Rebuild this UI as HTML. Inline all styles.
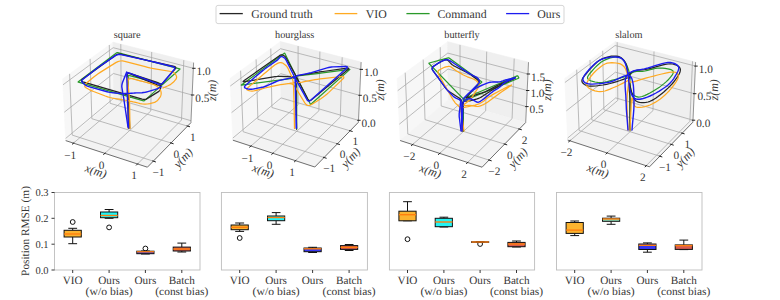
<!DOCTYPE html>
<html><head><meta charset="utf-8"><style>
html,body{margin:0;padding:0;background:#fff;}
svg{display:block;}
text{font-family:"Liberation Serif",serif;fill:#363636;text-rendering:geometricPrecision;}
</style></head><body>
<svg width="780" height="300" viewBox="0 0 780 300">
<rect width="780" height="300" fill="#fff"/>
<polygon points="65.7,140.6 113.8,100.3 113.1,42.2 62.7,78.9" fill="#f7f7f7" stroke="#f7f7f7" stroke-width="0.6"/>
<polygon points="113.8,100.3 190.9,122.7 193.6,62.6 113.1,42.2" fill="#efefef" stroke="#efefef" stroke-width="0.6"/>
<polygon points="65.7,140.6 147.4,167.2 190.9,122.7 113.8,100.3" fill="#f3f3f3" stroke="#f3f3f3" stroke-width="0.6"/>
<line x1="73.5" y1="143.1" x2="121.2" y2="102.4" stroke="#a6a6a6" stroke-width="0.75"/>
<line x1="121.2" y1="102.4" x2="120.8" y2="44.1" stroke="#a6a6a6" stroke-width="0.75"/>
<line x1="104.9" y1="153.3" x2="150.8" y2="111.0" stroke="#a6a6a6" stroke-width="0.75"/>
<line x1="150.8" y1="111.0" x2="151.7" y2="52.0" stroke="#a6a6a6" stroke-width="0.75"/>
<line x1="137.5" y1="164.0" x2="181.5" y2="120.0" stroke="#a6a6a6" stroke-width="0.75"/>
<line x1="181.5" y1="120.0" x2="183.8" y2="60.1" stroke="#a6a6a6" stroke-width="0.75"/>
<line x1="72.2" y1="135.1" x2="153.4" y2="161.2" stroke="#a6a6a6" stroke-width="0.75"/>
<line x1="72.2" y1="135.1" x2="69.6" y2="73.9" stroke="#a6a6a6" stroke-width="0.75"/>
<line x1="91.8" y1="118.7" x2="171.1" y2="143.0" stroke="#a6a6a6" stroke-width="0.75"/>
<line x1="91.8" y1="118.7" x2="90.1" y2="58.9" stroke="#a6a6a6" stroke-width="0.75"/>
<line x1="110.1" y1="103.3" x2="187.6" y2="126.1" stroke="#a6a6a6" stroke-width="0.75"/>
<line x1="110.1" y1="103.3" x2="109.3" y2="45.0" stroke="#a6a6a6" stroke-width="0.75"/>
<line x1="65.6" y1="138.5" x2="113.7" y2="98.3" stroke="#a6a6a6" stroke-width="0.75"/>
<line x1="113.7" y1="98.3" x2="191.0" y2="120.7" stroke="#a6a6a6" stroke-width="0.75"/>
<line x1="64.3" y1="112.2" x2="113.4" y2="73.5" stroke="#a6a6a6" stroke-width="0.75"/>
<line x1="113.4" y1="73.5" x2="192.1" y2="95.0" stroke="#a6a6a6" stroke-width="0.75"/>
<line x1="63.0" y1="84.8" x2="113.2" y2="47.7" stroke="#a6a6a6" stroke-width="0.75"/>
<line x1="113.2" y1="47.7" x2="193.4" y2="68.3" stroke="#a6a6a6" stroke-width="0.75"/>
<line x1="65.7" y1="140.6" x2="147.4" y2="167.2" stroke="#333" stroke-width="0.7"/>
<line x1="147.4" y1="167.2" x2="190.9" y2="122.7" stroke="#333" stroke-width="0.7"/>
<line x1="190.9" y1="122.7" x2="193.6" y2="62.6" stroke="#6a6a6a" stroke-width="0.7"/>
<line x1="74.2" y1="142.6" x2="72.0" y2="144.4" stroke="#222" stroke-width="1"/>
<text x="70.2" y="158.6" font-size="11.3" text-anchor="middle">−1</text>
<line x1="105.5" y1="152.8" x2="103.3" y2="154.7" stroke="#222" stroke-width="1"/>
<text x="101.5" y="168.8" font-size="11.3" text-anchor="middle">0</text>
<line x1="138.1" y1="163.4" x2="136.1" y2="165.4" stroke="#222" stroke-width="1"/>
<text x="134.1" y="179.4" font-size="11.3" text-anchor="middle">1</text>
<line x1="152.3" y1="160.8" x2="155.9" y2="162.0" stroke="#222" stroke-width="1"/>
<text x="158.5" y="175.6" font-size="11.3" text-anchor="middle">−1</text>
<line x1="170.1" y1="142.7" x2="173.6" y2="143.8" stroke="#222" stroke-width="1"/>
<text x="176.3" y="157.5" font-size="11.3" text-anchor="middle">0</text>
<line x1="186.6" y1="125.8" x2="190.0" y2="126.8" stroke="#222" stroke-width="1"/>
<text x="192.8" y="140.6" font-size="11.3" text-anchor="middle">1</text>
<line x1="190.9" y1="95.0" x2="194.3" y2="95.0" stroke="#222" stroke-width="1"/>
<text x="195.3" y="101.5" font-size="11.3" text-anchor="start">0.5</text>
<line x1="192.2" y1="68.3" x2="195.6" y2="68.3" stroke="#222" stroke-width="1"/>
<text x="196.6" y="74.8" font-size="11.3" text-anchor="start">1.0</text>
<text x="96.0" y="171.0" font-size="12" text-anchor="middle" font-style="italic" dominant-baseline="central" transform="rotate(19 96.0 171.0)">x(m)</text>
<text x="183.1" y="158.0" font-size="12" text-anchor="middle" font-style="italic" dominant-baseline="central" transform="rotate(-48 183.1 158.0)">y(m)</text>
<text x="212.2" y="90.3" font-size="12" text-anchor="middle" font-style="italic" dominant-baseline="central" transform="rotate(-90 212.2 90.3)">z(m)</text>
<text x="127.2" y="37.5" font-size="10.3" text-anchor="middle">square</text>
<polygon points="232.9,140.2 281.1,99.8 280.4,41.6 230.0,78.4" fill="#f7f7f7" stroke="#f7f7f7" stroke-width="0.6"/>
<polygon points="281.1,99.8 358.4,122.3 361.1,62.1 280.4,41.6" fill="#efefef" stroke="#efefef" stroke-width="0.6"/>
<polygon points="232.9,140.2 314.8,167.0 358.4,122.3 281.1,99.8" fill="#f3f3f3" stroke="#f3f3f3" stroke-width="0.6"/>
<line x1="250.9" y1="146.1" x2="298.1" y2="104.8" stroke="#a6a6a6" stroke-width="0.75"/>
<line x1="298.1" y1="104.8" x2="298.1" y2="46.1" stroke="#a6a6a6" stroke-width="0.75"/>
<line x1="272.9" y1="153.3" x2="318.9" y2="110.8" stroke="#a6a6a6" stroke-width="0.75"/>
<line x1="318.9" y1="110.8" x2="319.9" y2="51.6" stroke="#a6a6a6" stroke-width="0.75"/>
<line x1="295.6" y1="160.7" x2="340.3" y2="117.0" stroke="#a6a6a6" stroke-width="0.75"/>
<line x1="340.3" y1="117.0" x2="342.2" y2="57.3" stroke="#a6a6a6" stroke-width="0.75"/>
<line x1="243.1" y1="131.7" x2="324.0" y2="157.5" stroke="#a6a6a6" stroke-width="0.75"/>
<line x1="243.1" y1="131.7" x2="240.6" y2="70.7" stroke="#a6a6a6" stroke-width="0.75"/>
<line x1="257.9" y1="119.3" x2="337.4" y2="143.8" stroke="#a6a6a6" stroke-width="0.75"/>
<line x1="257.9" y1="119.3" x2="256.1" y2="59.4" stroke="#a6a6a6" stroke-width="0.75"/>
<line x1="271.9" y1="107.5" x2="350.1" y2="130.8" stroke="#a6a6a6" stroke-width="0.75"/>
<line x1="271.9" y1="107.5" x2="270.8" y2="48.6" stroke="#a6a6a6" stroke-width="0.75"/>
<line x1="232.8" y1="138.1" x2="281.1" y2="97.9" stroke="#a6a6a6" stroke-width="0.75"/>
<line x1="281.1" y1="97.9" x2="358.4" y2="120.3" stroke="#a6a6a6" stroke-width="0.75"/>
<line x1="231.6" y1="112.6" x2="280.8" y2="73.7" stroke="#a6a6a6" stroke-width="0.75"/>
<line x1="280.8" y1="73.7" x2="359.6" y2="95.3" stroke="#a6a6a6" stroke-width="0.75"/>
<line x1="230.3" y1="86.0" x2="280.5" y2="48.7" stroke="#a6a6a6" stroke-width="0.75"/>
<line x1="280.5" y1="48.7" x2="360.8" y2="69.4" stroke="#a6a6a6" stroke-width="0.75"/>
<line x1="232.9" y1="140.2" x2="314.8" y2="167.0" stroke="#333" stroke-width="0.7"/>
<line x1="314.8" y1="167.0" x2="358.4" y2="122.3" stroke="#333" stroke-width="0.7"/>
<line x1="358.4" y1="122.3" x2="361.1" y2="62.1" stroke="#6a6a6a" stroke-width="0.7"/>
<line x1="251.5" y1="145.5" x2="249.3" y2="147.4" stroke="#222" stroke-width="1"/>
<text x="247.5" y="161.5" font-size="11.3" text-anchor="middle">−1</text>
<line x1="273.5" y1="152.7" x2="271.4" y2="154.7" stroke="#222" stroke-width="1"/>
<text x="269.5" y="168.7" font-size="11.3" text-anchor="middle">0</text>
<line x1="296.2" y1="160.1" x2="294.1" y2="162.1" stroke="#222" stroke-width="1"/>
<text x="292.2" y="176.1" font-size="11.3" text-anchor="middle">1</text>
<line x1="323.0" y1="157.2" x2="326.6" y2="158.3" stroke="#222" stroke-width="1"/>
<text x="329.2" y="172.0" font-size="11.3" text-anchor="middle">−1</text>
<line x1="336.4" y1="143.5" x2="339.9" y2="144.6" stroke="#222" stroke-width="1"/>
<text x="342.6" y="158.3" font-size="11.3" text-anchor="middle">0</text>
<line x1="349.1" y1="130.5" x2="352.6" y2="131.5" stroke="#222" stroke-width="1"/>
<text x="355.3" y="145.3" font-size="11.3" text-anchor="middle">1</text>
<line x1="357.2" y1="120.3" x2="360.6" y2="120.3" stroke="#222" stroke-width="1"/>
<text x="361.6" y="126.8" font-size="11.3" text-anchor="start">0.0</text>
<line x1="358.4" y1="95.3" x2="361.8" y2="95.3" stroke="#222" stroke-width="1"/>
<text x="362.8" y="101.8" font-size="11.3" text-anchor="start">0.5</text>
<line x1="359.6" y1="69.4" x2="363.0" y2="69.4" stroke="#222" stroke-width="1"/>
<text x="364.0" y="75.9" font-size="11.3" text-anchor="start">1.0</text>
<text x="263.3" y="170.7" font-size="12" text-anchor="middle" font-style="italic" dominant-baseline="central" transform="rotate(19 263.3 170.7)">x(m)</text>
<text x="350.6" y="157.6" font-size="12" text-anchor="middle" font-style="italic" dominant-baseline="central" transform="rotate(-48 350.6 157.6)">y(m)</text>
<text x="379.7" y="89.8" font-size="12" text-anchor="middle" font-style="italic" dominant-baseline="central" transform="rotate(-90 379.7 89.8)">z(m)</text>
<text x="294.7" y="37.5" font-size="10.3" text-anchor="middle">hourglass</text>
<polygon points="400.1,140.5 448.3,100.0 447.7,41.7 397.1,78.6" fill="#f7f7f7" stroke="#f7f7f7" stroke-width="0.6"/>
<polygon points="448.3,100.0 525.7,122.5 528.5,62.2 447.7,41.7" fill="#efefef" stroke="#efefef" stroke-width="0.6"/>
<polygon points="400.1,140.5 482.1,167.2 525.7,122.5 448.3,100.0" fill="#f3f3f3" stroke="#f3f3f3" stroke-width="0.6"/>
<line x1="412.6" y1="144.5" x2="460.2" y2="103.5" stroke="#a6a6a6" stroke-width="0.75"/>
<line x1="460.2" y1="103.5" x2="460.0" y2="44.9" stroke="#a6a6a6" stroke-width="0.75"/>
<line x1="439.7" y1="153.4" x2="485.7" y2="110.9" stroke="#a6a6a6" stroke-width="0.75"/>
<line x1="485.7" y1="110.9" x2="486.7" y2="51.6" stroke="#a6a6a6" stroke-width="0.75"/>
<line x1="467.6" y1="162.5" x2="512.1" y2="118.6" stroke="#a6a6a6" stroke-width="0.75"/>
<line x1="512.1" y1="118.6" x2="514.2" y2="58.6" stroke="#a6a6a6" stroke-width="0.75"/>
<line x1="407.8" y1="134.0" x2="489.1" y2="160.1" stroke="#a6a6a6" stroke-width="0.75"/>
<line x1="407.8" y1="134.0" x2="405.2" y2="72.7" stroke="#a6a6a6" stroke-width="0.75"/>
<line x1="425.0" y1="119.6" x2="504.7" y2="144.1" stroke="#a6a6a6" stroke-width="0.75"/>
<line x1="425.0" y1="119.6" x2="423.2" y2="59.6" stroke="#a6a6a6" stroke-width="0.75"/>
<line x1="441.2" y1="106.0" x2="519.3" y2="129.1" stroke="#a6a6a6" stroke-width="0.75"/>
<line x1="441.2" y1="106.0" x2="440.2" y2="47.2" stroke="#a6a6a6" stroke-width="0.75"/>
<line x1="399.3" y1="124.2" x2="448.1" y2="84.6" stroke="#a6a6a6" stroke-width="0.75"/>
<line x1="448.1" y1="84.6" x2="526.4" y2="106.6" stroke="#a6a6a6" stroke-width="0.75"/>
<line x1="398.5" y1="107.6" x2="448.0" y2="69.0" stroke="#a6a6a6" stroke-width="0.75"/>
<line x1="448.0" y1="69.0" x2="527.2" y2="90.5" stroke="#a6a6a6" stroke-width="0.75"/>
<line x1="397.7" y1="90.7" x2="447.8" y2="53.1" stroke="#a6a6a6" stroke-width="0.75"/>
<line x1="447.8" y1="53.1" x2="527.9" y2="74.0" stroke="#a6a6a6" stroke-width="0.75"/>
<line x1="400.1" y1="140.5" x2="482.1" y2="167.2" stroke="#333" stroke-width="0.7"/>
<line x1="482.1" y1="167.2" x2="525.7" y2="122.5" stroke="#333" stroke-width="0.7"/>
<line x1="525.7" y1="122.5" x2="528.5" y2="62.2" stroke="#6a6a6a" stroke-width="0.7"/>
<line x1="413.3" y1="144.0" x2="411.1" y2="145.9" stroke="#222" stroke-width="1"/>
<text x="409.3" y="160.0" font-size="11.3" text-anchor="middle">−2</text>
<line x1="440.3" y1="152.8" x2="438.1" y2="154.8" stroke="#222" stroke-width="1"/>
<text x="436.3" y="168.8" font-size="11.3" text-anchor="middle">0</text>
<line x1="468.2" y1="161.9" x2="466.2" y2="164.0" stroke="#222" stroke-width="1"/>
<text x="464.2" y="177.9" font-size="11.3" text-anchor="middle">2</text>
<line x1="488.1" y1="159.8" x2="491.7" y2="160.9" stroke="#222" stroke-width="1"/>
<text x="494.3" y="174.6" font-size="11.3" text-anchor="middle">−2</text>
<line x1="503.7" y1="143.8" x2="507.2" y2="144.9" stroke="#222" stroke-width="1"/>
<text x="509.9" y="158.6" font-size="11.3" text-anchor="middle">0</text>
<line x1="518.3" y1="128.8" x2="521.8" y2="129.8" stroke="#222" stroke-width="1"/>
<text x="524.5" y="143.6" font-size="11.3" text-anchor="middle">2</text>
<line x1="525.2" y1="106.6" x2="528.6" y2="106.6" stroke="#222" stroke-width="1"/>
<text x="529.6" y="113.1" font-size="11.3" text-anchor="start">0.5</text>
<line x1="526.0" y1="90.5" x2="529.4" y2="90.5" stroke="#222" stroke-width="1"/>
<text x="530.4" y="97.0" font-size="11.3" text-anchor="start">1.0</text>
<line x1="526.7" y1="74.0" x2="530.1" y2="74.0" stroke="#222" stroke-width="1"/>
<text x="531.1" y="80.5" font-size="11.3" text-anchor="start">1.5</text>
<text x="430.5" y="171.0" font-size="12" text-anchor="middle" font-style="italic" dominant-baseline="central" transform="rotate(19 430.5 171.0)">x(m)</text>
<text x="517.9" y="157.9" font-size="12" text-anchor="middle" font-style="italic" dominant-baseline="central" transform="rotate(-48 517.9 157.9)">y(m)</text>
<text x="547.1" y="90.0" font-size="12" text-anchor="middle" font-style="italic" dominant-baseline="central" transform="rotate(-90 547.1 90.0)">z(m)</text>
<text x="462.0" y="37.5" font-size="10.3" text-anchor="middle">butterfly</text>
<polygon points="567.7,140.1 615.8,99.8 615.1,41.7 564.7,78.4" fill="#f7f7f7" stroke="#f7f7f7" stroke-width="0.6"/>
<polygon points="615.8,99.8 692.9,122.2 695.6,62.1 615.1,41.7" fill="#efefef" stroke="#efefef" stroke-width="0.6"/>
<polygon points="567.7,140.1 649.5,166.8 692.9,122.2 615.8,99.8" fill="#f3f3f3" stroke="#f3f3f3" stroke-width="0.6"/>
<line x1="569.9" y1="140.8" x2="617.8" y2="100.4" stroke="#a6a6a6" stroke-width="0.75"/>
<line x1="617.8" y1="100.4" x2="617.2" y2="42.2" stroke="#a6a6a6" stroke-width="0.75"/>
<line x1="607.1" y1="152.9" x2="653.0" y2="110.6" stroke="#a6a6a6" stroke-width="0.75"/>
<line x1="653.0" y1="110.6" x2="654.0" y2="51.5" stroke="#a6a6a6" stroke-width="0.75"/>
<line x1="646.2" y1="165.7" x2="689.9" y2="121.3" stroke="#a6a6a6" stroke-width="0.75"/>
<line x1="689.9" y1="121.3" x2="692.5" y2="61.3" stroke="#a6a6a6" stroke-width="0.75"/>
<line x1="579.1" y1="130.5" x2="659.8" y2="156.2" stroke="#a6a6a6" stroke-width="0.75"/>
<line x1="579.1" y1="130.5" x2="576.7" y2="69.7" stroke="#a6a6a6" stroke-width="0.75"/>
<line x1="591.8" y1="119.9" x2="671.2" y2="144.4" stroke="#a6a6a6" stroke-width="0.75"/>
<line x1="591.8" y1="119.9" x2="590.0" y2="60.0" stroke="#a6a6a6" stroke-width="0.75"/>
<line x1="603.9" y1="109.8" x2="682.2" y2="133.2" stroke="#a6a6a6" stroke-width="0.75"/>
<line x1="603.9" y1="109.8" x2="602.7" y2="50.8" stroke="#a6a6a6" stroke-width="0.75"/>
<line x1="567.6" y1="138.1" x2="615.7" y2="97.9" stroke="#a6a6a6" stroke-width="0.75"/>
<line x1="615.7" y1="97.9" x2="693.0" y2="120.2" stroke="#a6a6a6" stroke-width="0.75"/>
<line x1="566.3" y1="110.9" x2="615.4" y2="72.2" stroke="#a6a6a6" stroke-width="0.75"/>
<line x1="615.4" y1="72.2" x2="694.2" y2="93.7" stroke="#a6a6a6" stroke-width="0.75"/>
<line x1="564.9" y1="82.5" x2="615.1" y2="45.5" stroke="#a6a6a6" stroke-width="0.75"/>
<line x1="615.1" y1="45.5" x2="695.5" y2="66.1" stroke="#a6a6a6" stroke-width="0.75"/>
<line x1="567.7" y1="140.1" x2="649.5" y2="166.8" stroke="#333" stroke-width="0.7"/>
<line x1="649.5" y1="166.8" x2="692.9" y2="122.2" stroke="#333" stroke-width="0.7"/>
<line x1="692.9" y1="122.2" x2="695.6" y2="62.1" stroke="#6a6a6a" stroke-width="0.7"/>
<line x1="570.5" y1="140.3" x2="568.3" y2="142.1" stroke="#222" stroke-width="1"/>
<text x="566.5" y="156.3" font-size="11.3" text-anchor="middle">−2</text>
<line x1="607.7" y1="152.4" x2="605.6" y2="154.3" stroke="#222" stroke-width="1"/>
<text x="603.7" y="168.4" font-size="11.3" text-anchor="middle">0</text>
<line x1="646.8" y1="165.1" x2="644.8" y2="167.2" stroke="#222" stroke-width="1"/>
<text x="642.8" y="181.1" font-size="11.3" text-anchor="middle">2</text>
<line x1="658.8" y1="155.9" x2="662.3" y2="157.0" stroke="#222" stroke-width="1"/>
<text x="665.0" y="170.7" font-size="11.3" text-anchor="middle">−1</text>
<line x1="670.2" y1="144.1" x2="673.7" y2="145.2" stroke="#222" stroke-width="1"/>
<text x="676.4" y="158.9" font-size="11.3" text-anchor="middle">0</text>
<line x1="681.2" y1="132.9" x2="684.6" y2="133.9" stroke="#222" stroke-width="1"/>
<text x="687.4" y="147.7" font-size="11.3" text-anchor="middle">1</text>
<line x1="691.8" y1="120.2" x2="695.2" y2="120.2" stroke="#222" stroke-width="1"/>
<text x="696.2" y="126.7" font-size="11.3" text-anchor="start">0.0</text>
<line x1="693.0" y1="93.7" x2="696.4" y2="93.7" stroke="#222" stroke-width="1"/>
<text x="697.4" y="100.2" font-size="11.3" text-anchor="start">0.5</text>
<line x1="694.3" y1="66.1" x2="697.7" y2="66.1" stroke="#222" stroke-width="1"/>
<text x="698.7" y="72.6" font-size="11.3" text-anchor="start">1.0</text>
<text x="598.0" y="170.6" font-size="12" text-anchor="middle" font-style="italic" dominant-baseline="central" transform="rotate(19 598.0 170.6)">x(m)</text>
<text x="685.1" y="157.5" font-size="12" text-anchor="middle" font-style="italic" dominant-baseline="central" transform="rotate(-48 685.1 157.5)">y(m)</text>
<text x="714.2" y="89.8" font-size="12" text-anchor="middle" font-style="italic" dominant-baseline="central" transform="rotate(-90 714.2 89.8)">z(m)</text>
<text x="628.9" y="37.5" font-size="10.3" text-anchor="middle">slalom</text>
<polyline points="128.6,128.3 128.2,75.8 128.2,75.6 128.3,75.5 128.5,75.4 128.7,75.4 162.3,84.2 162.5,84.2 162.6,84.4 162.6,84.5 162.4,84.6 144.5,100.6 144.3,100.7 144.1,100.8 143.9,100.8 143.6,100.8 78.4,82.1 78.2,82.1 78.1,82.0 78.2,81.8 78.3,81.7 116.7,52.8 116.9,52.7 117.1,52.6 117.3,52.6 117.6,52.6 179.7,68.8 179.9,68.8 180.0,69.0 180.0,69.1 179.8,69.2 162.8,84.3" fill="none" stroke="#2a9a2a" stroke-width="1.2" stroke-linejoin="round" stroke-linecap="round"/>
<polyline points="129.8,128.3 127.2,75.5 127.3,74.2 127.8,73.5 128.6,73.2 129.9,73.4 157.1,82.4 158.4,83.0 159.4,83.8 160.1,84.9 160.4,86.3 160.6,87.0 160.6,88.4 160.3,89.7 159.5,90.7 158.5,91.6 147.5,98.4 146.3,99.1 144.9,99.4 143.5,99.4 142.1,99.2 82.9,81.8 81.8,81.4 81.3,80.8 81.5,80.1 82.4,79.2 115.6,55.3 116.8,54.5 118.1,54.1 119.5,54.0 120.9,54.2 147.1,60.3 148.5,60.7 150.0,61.0 151.5,61.3 152.9,61.7 174.1,66.3 175.2,66.8 175.8,67.4 175.7,68.2 175.0,69.2 162.0,83.8 161.0,84.7 159.8,85.2 158.6,85.2 157.2,84.9 126.7,72.5" fill="none" stroke="#262626" stroke-width="1.25" stroke-linejoin="round" stroke-linecap="round"/>
<polyline points="130.0,128.5 129.6,105.0 129.5,102.5 129.4,100.0 129.3,97.5 129.1,95.0 127.9,82.5 128.1,80.4 128.8,79.1 130.3,78.5 132.3,78.7 140.2,80.8 142.6,81.4 145.0,82.0 147.4,82.7 149.8,83.4 153.5,84.5 155.0,85.1 156.4,85.9 157.7,86.9 158.8,88.1 160.0,89.6 160.6,90.5 160.9,91.4 161.1,92.4 161.2,93.4 161.1,93.9 161.0,94.9 160.7,95.9 160.3,96.8 159.7,97.7 158.6,99.2 157.6,100.4 156.4,101.3 155.1,102.1 153.6,102.6 149.8,103.6 147.4,104.0 145.0,104.2 142.6,104.0 140.2,103.6 138.1,103.0 135.7,102.4 133.3,101.9 130.8,101.3 128.4,100.8 126.6,100.5 124.1,100.0 121.7,99.6 119.2,99.2 116.8,98.8 114.9,98.5 112.5,98.1 110.1,97.5 107.7,96.8 105.3,96.0 93.6,91.5 91.9,90.8 90.3,90.1 88.6,89.2 87.0,88.3 86.4,87.9 85.1,86.9 84.7,85.9 85.0,84.8 86.0,83.6 92.2,78.3 94.1,76.7 96.1,75.2 98.1,73.7 100.2,72.4 115.8,62.6 117.9,61.6 120.1,61.0 122.5,60.9 124.8,61.3 145.2,66.7 147.6,67.3 150.0,67.9 152.5,68.4 154.9,68.8 171.1,71.5 172.5,71.9 173.7,72.5 174.7,73.4 175.6,74.5 175.9,75.0 176.5,76.2 176.6,77.4 176.3,78.6 175.6,79.7 174.3,81.2 172.9,82.6 171.4,83.8 169.8,84.9 168.0,85.8 163.0,88.0" fill="none" stroke="#ffaa22" stroke-width="1.25" stroke-linejoin="round" stroke-linecap="round"/>
<polyline points="127.5,77.5 127.5,95.0 127.5,97.5 127.5,100.0 127.6,102.5 127.6,105.0 128.0,128.0" fill="none" stroke="#ffaa22" stroke-width="1.25" stroke-linejoin="round" stroke-linecap="round"/>
<polyline points="128.5,128.0 127.6,103.0 127.6,101.5 127.5,100.0 127.5,98.5 127.4,97.0 126.8,75.0 126.9,73.8 127.4,73.0 128.3,72.8 129.5,73.1 158.2,83.9 159.5,84.3 160.8,84.2 161.9,83.7 163.0,82.7 174.0,69.8 174.7,68.7 174.8,67.9 174.2,67.2 173.1,66.8 152.9,61.7 151.5,61.4 150.0,61.0 148.5,60.7 147.1,60.4 120.9,54.6 119.5,54.5 118.1,54.6 116.8,55.0 115.5,55.7 102.5,64.3 101.3,65.2 100.0,66.0 98.8,66.9 97.6,67.8 83.0,79.2 82.1,80.1 81.8,81.0 82.0,82.0 82.9,82.9 84.4,84.2 85.6,85.1 86.8,85.8 88.2,86.4 89.6,86.9 107.1,91.7 108.6,92.1 110.0,92.4 111.5,92.6 113.0,92.8 118.7,93.4 120.2,93.5 121.7,93.6 123.2,93.6 124.7,93.5 130.3,93.3 131.8,93.2 133.3,93.1 134.8,93.0 136.3,92.9 142.0,92.7 143.5,92.5 145.0,92.3 146.4,92.0 147.9,91.6 154.5,89.7 155.6,89.3 156.7,88.9 157.7,88.5 158.8,88.0 161.3,86.7" fill="none" stroke="#1c1cf0" stroke-width="1.4" stroke-linejoin="round" stroke-linecap="round"/>
<polyline points="126.7,72.0 122.6,82.2 122.2,83.6 121.9,85.0 121.8,86.5 122.0,88.0 123.5,97.0 123.8,98.5 124.0,100.0 124.2,101.5 124.4,103.0 128.0,127.0" fill="none" stroke="#1c1cf0" stroke-width="1.4" stroke-linejoin="round" stroke-linecap="round"/>
<polyline points="296.7,129.2 296.7,78.2 296.7,78.0 296.6,77.8 296.4,77.8 296.2,77.8 241.5,85.1 241.3,85.1 241.2,85.1 241.3,85.0 241.4,84.9 284.3,53.3 284.5,53.2 284.7,53.2 284.8,53.3 284.9,53.4 295.6,75.4 295.7,75.6 295.8,75.8 295.9,76.0 296.0,76.2 310.3,104.1 310.4,104.2 310.5,104.3 310.7,104.3 310.9,104.2 349.7,69.6 349.9,69.5 349.9,69.4 349.8,69.4 349.6,69.4 320.5,73.2 320.2,73.3 320.0,73.3 319.8,73.3 319.5,73.4 295.5,76.1" fill="none" stroke="#2a9a2a" stroke-width="1.2" stroke-linejoin="round" stroke-linecap="round"/>
<polyline points="296.5,129.0 296.0,80.0 295.8,78.7 295.3,77.7 294.3,77.1 293.0,76.9 281.0,76.3 279.5,76.3 278.0,76.4 276.5,76.5 275.0,76.7 244.7,81.7 243.5,81.8 243.1,81.6 243.3,81.2 244.2,80.5 276.6,57.7 277.3,57.2 278.0,56.7 278.7,56.2 279.4,55.7 279.6,55.5 280.3,55.1 281.1,54.9 281.8,54.9 282.6,55.1 283.2,55.3 284.0,55.7 284.8,56.3 285.4,56.9 285.9,57.7 294.6,73.4 295.3,74.7 296.0,76.0 296.7,77.3 297.4,78.7 307.8,99.0 308.6,100.1 309.4,100.6 310.4,100.5 311.5,99.8 347.7,69.7 348.5,68.9 348.7,68.4 348.2,68.1 347.0,68.2 323.0,71.5 321.5,71.7 320.0,71.9 318.5,72.2 317.0,72.4 296.0,76.0" fill="none" stroke="#262626" stroke-width="1.25" stroke-linejoin="round" stroke-linecap="round"/>
<polyline points="294.5,128.5 294.1,105.0 294.0,102.5 294.0,100.0 293.9,97.5 293.8,95.0 293.5,85.0 293.3,82.5 292.8,80.1 292.2,77.7 291.2,75.4 288.3,69.0 287.6,67.6 286.7,66.3 285.6,65.2 284.3,64.2 283.0,63.3 282.0,62.8 280.9,62.6 279.9,62.6 278.8,62.9 278.2,63.1 277.1,63.6 276.1,64.2 275.1,64.8 274.1,65.5 268.9,69.8 266.9,71.4 265.0,73.0 263.1,74.6 261.2,76.3 247.8,87.7 247.0,88.6 246.8,89.4 247.3,90.0 248.4,90.5 249.1,90.7 250.5,91.0 252.0,91.1 253.5,91.0 254.9,90.7 260.2,89.3 262.6,88.7 265.0,88.0 267.4,87.4 269.9,86.9 273.1,86.1 275.6,85.6 278.0,85.1 280.5,84.7 283.0,84.3 288.0,83.7 290.4,83.6 292.4,84.2 294.1,85.5 295.5,87.3 297.5,90.7 298.7,92.8 300.0,95.0 301.3,97.1 302.6,99.3 304.8,102.9 306.2,104.6 307.8,105.5 309.6,105.4 311.6,104.5 320.8,98.7 322.9,97.3 324.9,95.8 326.8,94.2 328.6,92.6 342.4,79.4 343.7,78.0 343.9,77.0 343.0,76.5 341.0,76.5 325.0,78.3 322.5,78.6 320.0,78.9 317.5,79.3 315.1,79.7 304.4,81.7 302.2,82.1 300.0,82.4 297.7,82.6 295.5,82.7 290.0,83.0" fill="none" stroke="#ffaa22" stroke-width="1.25" stroke-linejoin="round" stroke-linecap="round"/>
<polyline points="296.3,128.3 295.3,80.0 295.1,78.7 294.5,77.9 293.6,77.5 292.3,77.6 280.9,80.1 279.5,80.4 278.1,80.9 276.7,81.4 275.3,82.0 267.7,85.4 266.3,86.0 264.9,86.5 263.5,87.0 262.1,87.3 252.9,89.1 251.5,89.3 250.0,89.3 248.6,89.1 247.1,88.8 246.1,88.4 244.9,87.9 244.5,87.2 244.6,86.4 245.4,85.5 252.8,79.0 253.9,78.0 255.0,77.0 256.2,76.0 257.3,75.1 262.7,70.6 263.9,69.7 265.0,68.8 266.2,67.9 267.5,67.0 276.2,60.9 277.1,60.3 277.9,59.6 278.6,58.8 279.4,58.0 279.7,57.6 280.4,56.9 281.1,56.6 281.9,56.6 282.8,56.9 283.2,57.1 284.0,57.6 284.8,58.2 285.4,59.0 285.9,59.8 293.7,75.3 294.3,76.7 295.0,78.0 295.7,79.3 296.5,80.6 307.0,99.7 307.8,100.7 308.7,101.1 309.7,101.0 310.7,100.3 346.4,68.4 347.2,67.5 347.3,66.9 346.8,66.6 345.6,66.5 333.0,66.9 331.5,67.0 330.0,67.2 328.6,67.5 327.1,67.9 312.9,72.1 311.4,72.6 310.0,72.9 308.5,73.3 307.1,73.6 297.9,75.4 296.7,75.9 295.8,76.6 295.2,77.7 295.1,79.0 296.5,128.0" fill="none" stroke="#1c1cf0" stroke-width="1.4" stroke-linejoin="round" stroke-linecap="round"/>
<polyline points="463.4,131.3 463.4,99.5 463.4,99.3 463.3,99.0 463.2,98.8 463.1,98.6 429.0,63.5 428.9,63.3 428.9,63.2 429.0,63.0 429.2,63.0 448.2,57.8 448.5,57.8 448.7,57.8 448.9,57.9 449.1,58.0 481.6,81.7 481.7,81.9 481.8,82.0 481.8,82.2 481.6,82.3 463.4,98.7 463.2,98.8 463.2,98.9 463.3,98.9 463.5,98.8 517.1,75.9 517.4,75.8 517.6,75.9 517.7,76.0 517.9,76.1 518.7,77.6 518.8,77.8 518.8,77.9 518.7,78.1 518.5,78.2 466.5,99.8 466.2,99.9 466.0,99.9 465.8,99.9 465.5,99.8 463.9,99.2 463.7,99.1 463.5,99.2 463.4,99.3 463.4,99.5 463.4,131.3" fill="none" stroke="#2a9a2a" stroke-width="1.2" stroke-linejoin="round" stroke-linecap="round"/>
<polyline points="463.0,131.0 462.1,103.0 461.9,101.6 461.4,100.3 460.6,99.3 459.5,98.3 449.5,91.7 448.3,90.8 447.2,89.8 446.2,88.7 445.3,87.6 438.7,78.4 437.9,77.2 437.0,76.0 436.1,74.8 435.2,73.6 432.8,70.4 432.2,69.2 432.1,68.2 432.5,67.2 433.5,66.3 437.5,63.7 438.8,62.9 440.1,62.1 441.4,61.4 442.8,60.8 444.2,60.2 445.6,59.8 446.8,59.9 447.9,60.4 448.9,61.3 450.1,62.7 451.1,63.8 452.2,64.8 453.4,65.6 454.7,66.3 467.3,72.7 468.6,73.4 469.9,74.1 471.2,75.0 472.3,75.9 477.7,80.1 478.6,81.1 478.9,82.1 478.7,83.1 478.0,84.2 467.0,96.8 466.3,97.7 466.2,98.2 466.7,98.2 467.8,97.9 472.2,96.1 473.6,95.6 475.0,95.1 476.4,94.6 477.9,94.1 482.1,92.9 483.5,92.4 484.9,91.9 486.3,91.3 487.6,90.6 497.4,85.4 498.7,84.7 500.0,84.1 501.4,83.5 502.8,82.9 513.9,78.4 515.0,78.0 515.3,77.9 515.0,78.1 514.0,78.6 507.7,81.7 506.4,82.3 505.0,83.0 503.7,83.7 502.4,84.4 494.6,88.6 493.3,89.3 492.0,90.1 490.8,90.8 489.5,91.7 482.5,96.3 481.2,97.1 479.9,97.8 478.5,98.4 477.1,98.9 472.9,100.1 471.4,100.5 470.0,100.8 468.5,100.9 467.0,101.0 466.0,101.0 464.7,101.2 463.7,101.7 463.1,102.7 462.9,104.0 462.0,131.0" fill="none" stroke="#262626" stroke-width="1.25" stroke-linejoin="round" stroke-linecap="round"/>
<polyline points="462.0,131.0 461.2,111.5 460.9,109.8 460.4,108.3 459.5,107.0 458.3,105.8 457.7,105.2 456.4,104.1 455.2,102.8 454.2,101.4 453.2,100.0 441.5,79.6 440.8,78.3 440.0,77.0 439.3,75.6 438.6,74.3 438.4,73.7 437.9,72.4 438.0,71.3 438.6,70.4 439.7,69.7 442.9,68.0 444.0,67.5 445.0,67.1 446.1,66.8 447.2,66.5 447.8,66.5 448.8,66.3 449.9,66.5 450.9,66.8 451.8,67.4 452.8,68.2 453.9,69.1 455.1,69.9 456.2,70.7 457.5,71.5 460.7,73.4 462.9,74.7 465.1,75.8 467.4,76.8 469.7,77.7 473.3,79.0 474.6,79.6 475.8,80.3 476.8,81.2 477.8,82.2 478.2,82.8 478.9,83.9 479.2,85.0 479.0,86.2 478.4,87.4 472.5,96.3 471.2,98.1 469.7,99.7 468.1,101.3 466.4,102.7 464.9,103.8 463.9,104.7 463.6,105.3 464.2,105.6 465.6,105.5 466.4,105.5 468.2,105.3 470.0,105.3 471.8,105.5 473.5,105.9 474.7,106.2 476.3,106.4 478.0,106.5 479.6,106.2 481.1,105.7 481.9,105.3 483.4,104.6 484.9,103.8 486.4,102.9 487.8,102.0 496.0,96.0 498.0,94.5 500.0,93.0 502.1,91.6 504.1,90.2 509.9,86.3 511.1,85.4 511.5,85.0 511.0,85.2 509.6,85.8 508.7,86.2 506.9,87.1 505.0,88.0 503.2,89.0 501.3,90.0 494.4,93.6 492.2,94.9 490.1,96.2 488.1,97.6 486.1,99.1 483.9,100.9 481.9,102.3 479.8,103.5 477.5,104.4 475.1,105.1 462.0,108.0" fill="none" stroke="#ffaa22" stroke-width="1.25" stroke-linejoin="round" stroke-linecap="round"/>
<polyline points="461.0,108.0 464.0,131.0" fill="none" stroke="#ffaa22" stroke-width="1.25" stroke-linejoin="round" stroke-linecap="round"/>
<polyline points="462.0,131.0 461.1,102.8 460.9,101.5 460.3,100.5 459.5,99.7 458.3,99.1 457.7,98.9 456.4,98.4 455.2,97.7 454.0,96.9 453.0,96.0 449.1,92.1 448.1,91.0 447.1,89.9 446.2,88.8 445.3,87.6 438.7,78.4 437.9,77.2 437.0,76.0 436.1,74.8 435.2,73.6 432.8,70.4 432.2,69.2 432.1,68.2 432.5,67.2 433.5,66.3 437.5,63.7 438.8,62.9 440.1,62.1 441.4,61.4 442.8,60.8 444.6,60.0 445.8,59.7 447.0,59.6 448.1,59.8 449.2,60.4 449.8,60.6 450.9,61.3 452.0,62.0 453.1,62.7 454.2,63.5 467.5,72.3 468.8,73.1 470.0,73.9 471.4,74.7 472.7,75.3 476.2,77.1 477.0,77.6 477.8,78.2 478.4,79.0 478.9,79.8 479.1,80.2 479.4,81.1 479.4,81.9 479.1,82.7 478.6,83.4 464.1,97.9 463.3,98.7 463.1,98.9 463.3,98.7 464.1,97.9 467.9,94.1 469.0,93.1 470.1,92.1 471.3,91.3 472.6,90.5 477.4,87.5 478.7,86.8 480.1,86.1 481.4,85.5 482.8,84.9 487.2,83.1 488.6,82.6 490.1,82.3 491.5,82.1 493.0,82.0 497.6,82.0 498.8,81.9 500.0,81.8 501.1,81.5 502.2,81.1 502.8,80.9 503.9,80.5 505.0,80.1 506.2,79.7 507.4,79.5 513.8,78.0 514.9,77.7 515.3,77.7 515.0,78.0 513.9,78.4 507.8,80.9 506.4,81.5 505.2,82.3 504.0,83.1 502.9,84.1 502.1,84.9 501.0,85.9 499.9,86.9 498.7,87.8 497.5,88.6 494.5,90.4 493.3,91.2 492.1,92.1 490.9,93.0 489.7,94.0 487.3,96.0 486.1,97.0 485.0,97.9 483.8,98.9 482.6,99.7 480.4,101.3 479.2,101.9 478.0,102.2 476.7,102.0 475.5,101.4 472.5,99.6 471.3,99.0 469.9,98.7 468.6,98.8 467.2,99.2 465.8,99.8 464.5,100.5 463.7,101.5 463.1,102.6 462.9,104.0 462.0,131.0" fill="none" stroke="#1c1cf0" stroke-width="1.4" stroke-linejoin="round" stroke-linecap="round"/>
<polyline points="461.0,100.0 459.4,112.0 459.2,113.5 459.2,115.0 459.2,116.5 459.4,118.0 461.0,131.0" fill="none" stroke="#1c1cf0" stroke-width="1.4" stroke-linejoin="round" stroke-linecap="round"/>
<polyline points="630.0,130.0 630.0,124.9 630.0,119.8 630.0,114.7 630.0,109.6 630.0,104.7 630.0,100.0 629.8,95.3 629.5,90.5 629.1,85.8 629.0,81.4 629.2,77.7 630.1,74.8 631.7,72.9 634.0,71.9 636.6,71.5 639.5,71.4 642.3,71.3 645.0,71.0 647.5,70.4 650.1,69.7 652.6,69.1 655.1,68.5 657.6,68.1 660.0,68.0 662.5,68.1 665.1,68.3 667.8,68.8 670.1,69.3 671.9,70.1 673.0,71.0 673.3,72.1 673.0,73.5 672.1,75.1 670.9,76.7 669.5,78.4 668.0,80.0 666.3,81.6 664.3,83.4 662.1,85.1 659.8,86.9 657.4,88.5 655.0,90.0 652.5,91.5 649.9,93.0 647.2,94.4 644.6,95.6 642.1,96.5 640.0,97.0 638.2,97.1 636.6,96.7 635.2,96.1 634.0,95.3 632.9,94.2 632.0,93.0 631.3,91.5 630.8,89.7 630.5,87.7 630.3,85.6 630.1,83.7 630.0,82.0 629.9,80.7 630.0,79.6 630.2,78.6 630.3,77.6 630.3,76.5 630.0,75.0 629.5,73.1 628.8,70.8 628.0,68.4 627.1,66.0 626.1,63.8 625.0,62.0 623.9,60.6 622.8,59.4 621.6,58.4 620.3,57.6 618.8,57.1 617.1,56.9 615.1,57.0 612.7,57.4 610.2,58.0 607.7,58.9 605.2,59.9 603.0,61.0 600.9,62.3 598.9,64.0 596.9,65.8 595.0,67.6 593.4,69.4 592.0,71.0 590.7,72.5 589.5,73.9 588.5,75.3 587.7,76.7 587.5,77.9 587.8,78.9 588.9,79.8 590.5,80.7 592.7,81.4 595.1,82.0 597.6,82.4 600.0,82.6 602.3,82.5 604.8,82.1 607.3,81.6 609.9,80.9 612.5,80.2 615.0,79.5 617.5,78.8 620.0,78.1 622.5,77.3 625.0,76.6 627.5,75.8 630.0,75.0" fill="none" stroke="#2a9a2a" stroke-width="1.2" stroke-linejoin="round" stroke-linecap="round"/>
<polyline points="630.0,130.0 630.0,125.0 630.0,119.9 630.0,114.8 630.0,109.7 630.0,104.8 630.0,100.0 629.8,95.2 629.3,90.3 628.9,85.4 628.7,81.0 629.0,77.1 630.0,74.0 631.9,72.0 634.6,70.8 637.8,70.2 641.2,69.9 644.7,69.6 648.0,69.0 651.3,68.1 654.9,67.1 658.5,66.1 662.0,65.1 665.2,64.4 668.0,64.0 670.3,63.9 672.4,64.0 674.1,64.3 675.6,64.8 676.9,65.4 678.0,66.0 678.9,66.7 679.6,67.5 680.1,68.4 680.4,69.4 680.3,70.6 680.0,72.0 679.3,73.7 678.2,75.6 676.9,77.7 675.3,79.9 673.7,82.0 672.0,84.0 670.2,85.9 668.3,87.9 666.2,89.8 664.1,91.7 662.0,93.4 660.0,95.0 658.0,96.5 656.0,97.9 654.0,99.2 652.0,100.4 650.0,101.3 648.0,102.0 645.9,102.4 643.7,102.6 641.6,102.6 639.5,102.4 637.6,101.8 636.0,101.0 634.7,99.8 633.7,98.3 632.9,96.4 632.3,94.4 631.6,92.2 631.0,90.0 630.4,87.6 629.9,84.9 629.4,82.1 628.9,79.2 628.5,76.5 628.0,74.0 627.6,71.7 627.2,69.5 626.9,67.4 626.4,65.4 625.8,63.6 625.0,62.0 624.0,60.5 622.8,59.2 621.4,58.0 619.9,57.0 618.2,56.4 616.2,56.0 613.9,56.0 611.3,56.2 608.4,56.8 605.5,57.6 602.7,58.6 600.0,60.0 597.4,61.8 594.8,64.2 592.2,66.8 589.8,69.4 587.7,71.9 586.0,74.0 584.6,75.7 583.5,77.1 582.6,78.4 582.1,79.5 581.9,80.6 582.0,81.6 582.5,82.6 583.3,83.6 584.5,84.5 586.0,85.3 587.8,85.9 590.0,86.2 592.6,86.2 595.8,86.0 599.2,85.5 602.9,85.0 606.5,84.3 610.0,83.5 613.3,82.6 616.7,81.6 620.0,80.5 623.3,79.3 626.7,78.1 630.0,77.0" fill="none" stroke="#262626" stroke-width="1.25" stroke-linejoin="round" stroke-linecap="round"/>
<polyline points="630.0,130.0 630.2,126.6 630.3,123.0 630.5,119.5 630.7,116.1 630.8,112.9 631.0,110.0 631.1,107.3 631.2,104.6 631.3,102.2 631.4,100.1 631.7,98.7 632.0,98.0 632.4,98.4 632.7,99.9 633.2,101.9 633.8,104.0 634.7,105.9 636.0,107.0 637.7,107.4 639.9,107.4 642.3,107.2 644.9,106.7 647.5,105.9 650.0,105.0 652.5,103.8 655.1,102.4 657.7,100.7 660.3,98.9 662.7,96.9 665.0,95.0 667.2,92.9 669.3,90.7 671.3,88.3 673.1,86.0 674.7,83.9 676.0,82.0 676.9,80.4 677.6,79.1 678.1,77.9 678.3,76.8 678.2,75.9 678.0,75.0 677.6,74.2 677.2,73.4 676.5,72.8 675.5,72.3 674.0,72.0 672.0,72.0 669.2,72.4 665.7,73.1 661.8,74.0 657.6,75.0 653.6,76.1 650.0,77.0 646.6,77.9 643.1,78.9 639.8,79.9 636.7,80.9 634.1,81.6 632.0,82.0 630.6,82.2 629.9,82.2 629.6,82.1 629.5,81.7 629.4,81.0 629.0,80.0 628.4,78.5 627.9,76.5 627.2,74.2 626.6,71.8 625.9,69.7 625.0,68.0 624.1,66.7 623.1,65.7 622.1,64.9 620.9,64.2 619.5,63.7 618.0,63.3 616.2,63.0 614.1,62.8 611.9,62.7 609.6,62.8 607.2,63.2 605.0,64.0 602.7,65.2 600.4,66.9 598.0,68.9 595.7,71.0 593.7,73.0 592.0,75.0 590.5,76.9 589.1,78.9 587.9,80.8 587.0,82.7 586.7,84.5 587.0,86.0 588.1,87.4 589.9,88.7 592.2,89.8 594.9,90.8 597.5,91.4 600.0,91.7 602.4,91.5 604.9,91.0 607.4,90.1 610.0,89.1 612.5,88.0 615.0,87.0 617.4,86.0 619.7,84.8 622.1,83.6 624.4,82.4 626.7,81.2 629.0,80.0" fill="none" stroke="#ffaa22" stroke-width="1.25" stroke-linejoin="round" stroke-linecap="round"/>
<polyline points="629.0,80.0 628.6,83.2 628.2,86.3 627.8,89.4 627.4,92.6 627.2,96.1 627.0,100.0 627.0,104.4 627.1,109.3 627.3,114.4 627.6,119.6 627.8,124.9 628.0,130.0" fill="none" stroke="#ffaa22" stroke-width="1.25" stroke-linejoin="round" stroke-linecap="round"/>
<polyline points="628.0,130.0 627.6,124.9 627.2,119.8 626.8,114.7 626.4,109.6 626.2,104.7 626.0,100.0 625.8,95.3 625.4,90.6 625.1,86.1 625.1,81.8 625.6,78.1 627.0,75.0 629.4,72.8 632.6,71.3 636.3,70.3 640.3,69.6 644.3,68.9 648.0,68.0 651.5,66.9 655.1,65.7 658.7,64.6 662.1,63.6 665.3,62.9 668.0,62.5 670.4,62.5 672.5,62.9 674.3,63.5 675.9,64.2 677.1,65.1 678.0,66.0 678.6,66.9 678.8,67.9 678.7,69.0 678.3,70.2 677.8,71.5 677.0,73.0 676.1,74.7 674.9,76.7 673.6,78.8 672.0,80.9 670.1,83.0 668.0,85.0 665.5,87.0 662.5,89.0 659.3,91.1 656.0,93.0 652.9,94.6 650.0,96.0 647.3,97.1 644.7,98.0 642.2,98.8 639.9,99.2 637.8,99.3 636.0,99.0 634.5,98.3 633.3,97.1 632.2,95.7 631.4,94.0 630.7,92.0 630.0,90.0 629.5,87.7 629.1,85.1 628.9,82.2 628.7,79.4 628.4,76.6 628.0,74.0 627.5,71.6 627.0,69.1 626.4,66.8 625.7,64.6 624.9,62.6 624.0,61.0 623.0,59.7 621.9,58.7 620.8,58.0 619.4,57.5 617.8,57.2 616.0,57.0 613.8,57.0 611.1,57.1 608.3,57.5 605.4,58.1 602.6,58.9 600.0,60.0 597.6,61.5 595.1,63.5 592.8,65.7 590.6,68.0 588.6,70.1 587.0,72.0 585.7,73.6 584.6,75.1 583.8,76.5 583.2,77.8 582.9,78.9 583.0,80.0 583.4,81.0 584.0,81.9 585.0,82.6 586.3,83.3 588.0,83.7 590.0,84.0 592.6,84.1 595.7,83.9 599.2,83.6 602.9,83.2 606.5,82.6 610.0,82.0 613.5,80.9 617.3,79.2 621.0,77.4 624.5,75.9 627.6,75.3 630.0,76.0 631.7,78.2 632.7,81.6 633.4,85.8 633.7,90.4 633.9,95.3 634.0,100.0 634.0,104.7 633.8,109.6 633.4,114.6 632.9,119.8 632.4,124.9 632.0,130.0" fill="none" stroke="#1c1cf0" stroke-width="1.4" stroke-linejoin="round" stroke-linecap="round"/>
<rect x="54.5" y="192.5" width="145.5" height="77.5" fill="none" stroke="#bdbdbd" stroke-width="0.9"/>
<line x1="72.7" y1="270.0" x2="72.7" y2="273.0" stroke="#222" stroke-width="0.9"/>
<circle cx="72.7" cy="222.0" r="2.4" fill="none" stroke="#111" stroke-width="1"/>
<line x1="72.7" y1="228.3" x2="72.7" y2="230.3" stroke="#111" stroke-width="1"/>
<line x1="72.7" y1="237.0" x2="72.7" y2="243.7" stroke="#111" stroke-width="1"/>
<line x1="68.3" y1="228.3" x2="77.1" y2="228.3" stroke="#111" stroke-width="1"/>
<line x1="68.3" y1="243.7" x2="77.1" y2="243.7" stroke="#111" stroke-width="1"/>
<rect x="64.1" y="230.3" width="17.2" height="6.7" fill="#fbb32f" stroke="#111" stroke-width="1"/>
<line x1="64.1" y1="234.0" x2="81.3" y2="234.0" stroke="#ff7f0e" stroke-width="1.4"/>
<text x="72.7" y="284.2" font-size="11.2" text-anchor="middle">VIO</text>
<line x1="109.1" y1="270.0" x2="109.1" y2="273.0" stroke="#222" stroke-width="0.9"/>
<circle cx="109.1" cy="227.4" r="2.4" fill="none" stroke="#111" stroke-width="1"/>
<line x1="109.1" y1="209.5" x2="109.1" y2="212.0" stroke="#111" stroke-width="1"/>
<line x1="109.1" y1="217.7" x2="109.1" y2="218.3" stroke="#111" stroke-width="1"/>
<line x1="104.7" y1="209.5" x2="113.5" y2="209.5" stroke="#111" stroke-width="1"/>
<line x1="104.7" y1="218.3" x2="113.5" y2="218.3" stroke="#111" stroke-width="1"/>
<rect x="100.5" y="212.0" width="17.2" height="5.7" fill="#22f4f4" stroke="#111" stroke-width="1"/>
<line x1="100.5" y1="215.5" x2="117.7" y2="215.5" stroke="#ff7f0e" stroke-width="1.4"/>
<text x="109.1" y="284.2" font-size="11.2" text-anchor="middle">Ours</text>
<text x="109.1" y="294.6" font-size="11.2" text-anchor="middle" textLength="47.0" lengthAdjust="spacingAndGlyphs">(w/o bias)</text>
<line x1="145.4" y1="270.0" x2="145.4" y2="273.0" stroke="#222" stroke-width="0.9"/>
<circle cx="145.4" cy="248.5" r="2.4" fill="none" stroke="#111" stroke-width="1"/>
<line x1="145.4" y1="251.0" x2="145.4" y2="251.2" stroke="#111" stroke-width="1"/>
<line x1="145.4" y1="253.7" x2="145.4" y2="254.0" stroke="#111" stroke-width="1"/>
<line x1="141.0" y1="251.0" x2="149.8" y2="251.0" stroke="#111" stroke-width="1"/>
<line x1="141.0" y1="254.0" x2="149.8" y2="254.0" stroke="#111" stroke-width="1"/>
<rect x="136.8" y="251.2" width="17.2" height="2.5" fill="#3636f2" stroke="#111" stroke-width="1"/>
<line x1="136.8" y1="251.8" x2="154.0" y2="251.8" stroke="#ff7f0e" stroke-width="1.4"/>
<text x="145.4" y="284.2" font-size="11.2" text-anchor="middle">Ours</text>
<line x1="181.8" y1="270.0" x2="181.8" y2="273.0" stroke="#222" stroke-width="0.9"/>
<line x1="181.8" y1="243.1" x2="181.8" y2="247.1" stroke="#111" stroke-width="1"/>
<line x1="181.8" y1="251.0" x2="181.8" y2="252.0" stroke="#111" stroke-width="1"/>
<line x1="177.4" y1="243.1" x2="186.2" y2="243.1" stroke="#111" stroke-width="1"/>
<line x1="177.4" y1="252.0" x2="186.2" y2="252.0" stroke="#111" stroke-width="1"/>
<rect x="173.2" y="247.1" width="17.2" height="3.9" fill="#d85a50" stroke="#111" stroke-width="1"/>
<line x1="173.2" y1="249.0" x2="190.4" y2="249.0" stroke="#ff7f0e" stroke-width="1.4"/>
<text x="181.8" y="284.2" font-size="11.2" text-anchor="middle">Batch</text>
<text x="181.8" y="294.6" font-size="11.2" text-anchor="middle" textLength="53.0" lengthAdjust="spacingAndGlyphs">(const bias)</text>
<rect x="221.4" y="192.5" width="146.0" height="77.5" fill="none" stroke="#bdbdbd" stroke-width="0.9"/>
<line x1="239.7" y1="270.0" x2="239.7" y2="273.0" stroke="#222" stroke-width="0.9"/>
<circle cx="239.7" cy="238.0" r="2.4" fill="none" stroke="#111" stroke-width="1"/>
<line x1="239.7" y1="223.0" x2="239.7" y2="225.0" stroke="#111" stroke-width="1"/>
<line x1="239.7" y1="229.7" x2="239.7" y2="231.4" stroke="#111" stroke-width="1"/>
<line x1="235.2" y1="223.0" x2="244.1" y2="223.0" stroke="#111" stroke-width="1"/>
<line x1="235.2" y1="231.4" x2="244.1" y2="231.4" stroke="#111" stroke-width="1"/>
<rect x="231.1" y="225.0" width="17.2" height="4.7" fill="#fbb32f" stroke="#111" stroke-width="1"/>
<line x1="231.1" y1="227.3" x2="248.2" y2="227.3" stroke="#ff7f0e" stroke-width="1.4"/>
<text x="239.7" y="284.2" font-size="11.2" text-anchor="middle">VIO</text>
<line x1="276.1" y1="270.0" x2="276.1" y2="273.0" stroke="#222" stroke-width="0.9"/>
<line x1="276.1" y1="212.6" x2="276.1" y2="216.0" stroke="#111" stroke-width="1"/>
<line x1="276.1" y1="220.7" x2="276.1" y2="224.3" stroke="#111" stroke-width="1"/>
<line x1="271.8" y1="212.6" x2="280.5" y2="212.6" stroke="#111" stroke-width="1"/>
<line x1="271.8" y1="224.3" x2="280.5" y2="224.3" stroke="#111" stroke-width="1"/>
<rect x="267.5" y="216.0" width="17.2" height="4.7" fill="#22f4f4" stroke="#111" stroke-width="1"/>
<line x1="267.5" y1="217.5" x2="284.8" y2="217.5" stroke="#ff7f0e" stroke-width="1.4"/>
<text x="276.1" y="284.2" font-size="11.2" text-anchor="middle">Ours</text>
<text x="276.1" y="294.6" font-size="11.2" text-anchor="middle" textLength="47.0" lengthAdjust="spacingAndGlyphs">(w/o bias)</text>
<line x1="312.6" y1="270.0" x2="312.6" y2="273.0" stroke="#222" stroke-width="0.9"/>
<line x1="312.6" y1="247.3" x2="312.6" y2="248.0" stroke="#111" stroke-width="1"/>
<line x1="312.6" y1="251.7" x2="312.6" y2="252.5" stroke="#111" stroke-width="1"/>
<line x1="308.2" y1="247.3" x2="317.0" y2="247.3" stroke="#111" stroke-width="1"/>
<line x1="308.2" y1="252.5" x2="317.0" y2="252.5" stroke="#111" stroke-width="1"/>
<rect x="304.0" y="248.0" width="17.2" height="3.7" fill="#3636f2" stroke="#111" stroke-width="1"/>
<line x1="304.0" y1="248.8" x2="321.2" y2="248.8" stroke="#ff7f0e" stroke-width="1.4"/>
<text x="312.6" y="284.2" font-size="11.2" text-anchor="middle">Ours</text>
<line x1="349.1" y1="270.0" x2="349.1" y2="273.0" stroke="#222" stroke-width="0.9"/>
<line x1="349.1" y1="244.5" x2="349.1" y2="245.6" stroke="#111" stroke-width="1"/>
<line x1="349.1" y1="249.4" x2="349.1" y2="250.5" stroke="#111" stroke-width="1"/>
<line x1="344.8" y1="244.5" x2="353.5" y2="244.5" stroke="#111" stroke-width="1"/>
<line x1="344.8" y1="250.5" x2="353.5" y2="250.5" stroke="#111" stroke-width="1"/>
<rect x="340.5" y="245.6" width="17.2" height="3.8" fill="#d85a50" stroke="#111" stroke-width="1"/>
<line x1="340.5" y1="247.3" x2="357.8" y2="247.3" stroke="#ff7f0e" stroke-width="1.4"/>
<text x="349.1" y="284.2" font-size="11.2" text-anchor="middle">Batch</text>
<text x="349.1" y="294.6" font-size="11.2" text-anchor="middle" textLength="53.0" lengthAdjust="spacingAndGlyphs">(const bias)</text>
<rect x="389.4" y="192.5" width="145.2" height="77.5" fill="none" stroke="#bdbdbd" stroke-width="0.9"/>
<line x1="407.5" y1="270.0" x2="407.5" y2="273.0" stroke="#222" stroke-width="0.9"/>
<circle cx="407.5" cy="239.2" r="2.4" fill="none" stroke="#111" stroke-width="1"/>
<line x1="407.5" y1="201.7" x2="407.5" y2="211.2" stroke="#111" stroke-width="1"/>
<line x1="407.5" y1="220.8" x2="407.5" y2="220.8" stroke="#111" stroke-width="1"/>
<line x1="403.1" y1="201.7" x2="411.9" y2="201.7" stroke="#111" stroke-width="1"/>
<line x1="403.1" y1="220.8" x2="411.9" y2="220.8" stroke="#111" stroke-width="1"/>
<rect x="398.9" y="211.2" width="17.2" height="9.6" fill="#fbb32f" stroke="#111" stroke-width="1"/>
<line x1="398.9" y1="214.7" x2="416.1" y2="214.7" stroke="#ff7f0e" stroke-width="1.4"/>
<text x="407.5" y="284.2" font-size="11.2" text-anchor="middle">VIO</text>
<line x1="443.9" y1="270.0" x2="443.9" y2="273.0" stroke="#222" stroke-width="0.9"/>
<line x1="443.9" y1="217.2" x2="443.9" y2="218.3" stroke="#111" stroke-width="1"/>
<line x1="443.9" y1="226.7" x2="443.9" y2="227.0" stroke="#111" stroke-width="1"/>
<line x1="439.5" y1="217.2" x2="448.2" y2="217.2" stroke="#111" stroke-width="1"/>
<line x1="439.5" y1="227.0" x2="448.2" y2="227.0" stroke="#111" stroke-width="1"/>
<rect x="435.2" y="218.3" width="17.2" height="8.4" fill="#22f4f4" stroke="#111" stroke-width="1"/>
<line x1="435.2" y1="222.0" x2="452.5" y2="222.0" stroke="#ff7f0e" stroke-width="1.4"/>
<text x="443.9" y="284.2" font-size="11.2" text-anchor="middle">Ours</text>
<text x="443.9" y="294.6" font-size="11.2" text-anchor="middle" textLength="47.0" lengthAdjust="spacingAndGlyphs">(w/o bias)</text>
<line x1="480.1" y1="270.0" x2="480.1" y2="273.0" stroke="#222" stroke-width="0.9"/>
<circle cx="480.1" cy="244.0" r="2.4" fill="none" stroke="#111" stroke-width="1"/>
<line x1="480.1" y1="241.6" x2="480.1" y2="241.8" stroke="#111" stroke-width="1"/>
<line x1="480.1" y1="242.3" x2="480.1" y2="242.5" stroke="#111" stroke-width="1"/>
<line x1="475.8" y1="241.6" x2="484.5" y2="241.6" stroke="#111" stroke-width="1"/>
<line x1="475.8" y1="242.5" x2="484.5" y2="242.5" stroke="#111" stroke-width="1"/>
<rect x="471.5" y="241.8" width="17.2" height="0.5" fill="#3636f2" stroke="#111" stroke-width="1"/>
<line x1="471.5" y1="242.0" x2="488.8" y2="242.0" stroke="#ff7f0e" stroke-width="1.4"/>
<text x="480.1" y="284.2" font-size="11.2" text-anchor="middle">Ours</text>
<line x1="516.5" y1="270.0" x2="516.5" y2="273.0" stroke="#222" stroke-width="0.9"/>
<line x1="516.5" y1="241.0" x2="516.5" y2="242.4" stroke="#111" stroke-width="1"/>
<line x1="516.5" y1="246.7" x2="516.5" y2="247.0" stroke="#111" stroke-width="1"/>
<line x1="512.1" y1="241.0" x2="520.9" y2="241.0" stroke="#111" stroke-width="1"/>
<line x1="512.1" y1="247.0" x2="520.9" y2="247.0" stroke="#111" stroke-width="1"/>
<rect x="507.9" y="242.4" width="17.2" height="4.3" fill="#d85a50" stroke="#111" stroke-width="1"/>
<line x1="507.9" y1="244.0" x2="525.1" y2="244.0" stroke="#ff7f0e" stroke-width="1.4"/>
<text x="516.5" y="284.2" font-size="11.2" text-anchor="middle">Batch</text>
<text x="516.5" y="294.6" font-size="11.2" text-anchor="middle" textLength="53.0" lengthAdjust="spacingAndGlyphs">(const bias)</text>
<rect x="556.5" y="192.5" width="145.5" height="77.5" fill="none" stroke="#bdbdbd" stroke-width="0.9"/>
<line x1="574.7" y1="270.0" x2="574.7" y2="273.0" stroke="#222" stroke-width="0.9"/>
<line x1="574.7" y1="221.0" x2="574.7" y2="222.5" stroke="#111" stroke-width="1"/>
<line x1="574.7" y1="233.4" x2="574.7" y2="235.6" stroke="#111" stroke-width="1"/>
<line x1="570.3" y1="221.0" x2="579.1" y2="221.0" stroke="#111" stroke-width="1"/>
<line x1="570.3" y1="235.6" x2="579.1" y2="235.6" stroke="#111" stroke-width="1"/>
<rect x="566.1" y="222.5" width="17.2" height="10.9" fill="#fbb32f" stroke="#111" stroke-width="1"/>
<line x1="566.1" y1="230.1" x2="583.3" y2="230.1" stroke="#ff7f0e" stroke-width="1.4"/>
<text x="574.7" y="284.2" font-size="11.2" text-anchor="middle">VIO</text>
<line x1="611.1" y1="270.0" x2="611.1" y2="273.0" stroke="#222" stroke-width="0.9"/>
<line x1="611.1" y1="216.1" x2="611.1" y2="218.2" stroke="#111" stroke-width="1"/>
<line x1="611.1" y1="221.3" x2="611.1" y2="224.3" stroke="#111" stroke-width="1"/>
<line x1="606.7" y1="216.1" x2="615.5" y2="216.1" stroke="#111" stroke-width="1"/>
<line x1="606.7" y1="224.3" x2="615.5" y2="224.3" stroke="#111" stroke-width="1"/>
<rect x="602.5" y="218.2" width="17.2" height="3.1" fill="#8ee0b8" stroke="#111" stroke-width="1"/>
<line x1="602.5" y1="219.0" x2="619.7" y2="219.0" stroke="#ff7f0e" stroke-width="1.4"/>
<text x="611.1" y="284.2" font-size="11.2" text-anchor="middle">Ours</text>
<text x="611.1" y="294.6" font-size="11.2" text-anchor="middle" textLength="47.0" lengthAdjust="spacingAndGlyphs">(w/o bias)</text>
<line x1="647.4" y1="270.0" x2="647.4" y2="273.0" stroke="#222" stroke-width="0.9"/>
<line x1="647.4" y1="242.9" x2="647.4" y2="244.0" stroke="#111" stroke-width="1"/>
<line x1="647.4" y1="249.5" x2="647.4" y2="252.2" stroke="#111" stroke-width="1"/>
<line x1="643.0" y1="242.9" x2="651.8" y2="242.9" stroke="#111" stroke-width="1"/>
<line x1="643.0" y1="252.2" x2="651.8" y2="252.2" stroke="#111" stroke-width="1"/>
<rect x="638.8" y="244.0" width="17.2" height="5.5" fill="#3636f2" stroke="#111" stroke-width="1"/>
<line x1="638.8" y1="245.3" x2="656.0" y2="245.3" stroke="#ff7f0e" stroke-width="1.4"/>
<text x="647.4" y="284.2" font-size="11.2" text-anchor="middle">Ours</text>
<line x1="683.8" y1="270.0" x2="683.8" y2="273.0" stroke="#222" stroke-width="0.9"/>
<line x1="683.8" y1="240.1" x2="683.8" y2="244.9" stroke="#111" stroke-width="1"/>
<line x1="683.8" y1="249.4" x2="683.8" y2="249.6" stroke="#111" stroke-width="1"/>
<line x1="679.4" y1="240.1" x2="688.2" y2="240.1" stroke="#111" stroke-width="1"/>
<line x1="679.4" y1="249.6" x2="688.2" y2="249.6" stroke="#111" stroke-width="1"/>
<rect x="675.2" y="244.9" width="17.2" height="4.5" fill="#d85a50" stroke="#111" stroke-width="1"/>
<line x1="675.2" y1="245.6" x2="692.4" y2="245.6" stroke="#ff7f0e" stroke-width="1.4"/>
<text x="683.8" y="284.2" font-size="11.2" text-anchor="middle">Batch</text>
<text x="683.8" y="294.6" font-size="11.2" text-anchor="middle" textLength="53.0" lengthAdjust="spacingAndGlyphs">(const bias)</text>
<line x1="51.5" y1="270.0" x2="54.5" y2="270.0" stroke="#222" stroke-width="0.9"/>
<text x="48.6" y="273.7" font-size="10.5" text-anchor="end">0.0</text>
<line x1="51.5" y1="244.2" x2="54.5" y2="244.2" stroke="#222" stroke-width="0.9"/>
<text x="48.6" y="247.9" font-size="10.5" text-anchor="end">0.1</text>
<line x1="51.5" y1="218.3" x2="54.5" y2="218.3" stroke="#222" stroke-width="0.9"/>
<text x="48.6" y="222.0" font-size="10.5" text-anchor="end">0.2</text>
<line x1="51.5" y1="192.5" x2="54.5" y2="192.5" stroke="#222" stroke-width="0.9"/>
<text x="48.6" y="196.2" font-size="10.5" text-anchor="end">0.3</text>
<text x="29.0" y="231.0" font-size="11.3" text-anchor="middle" transform="rotate(-90 29.0 231.0)">Position RMSE (m)</text>
<rect x="216" y="5.4" width="348" height="18.2" rx="2" fill="#fff" stroke="#d0d0d0" stroke-width="0.9"/>
<line x1="219.6" y1="13.6" x2="242.8" y2="13.6" stroke="#262626" stroke-width="1.3"/>
<text x="251.3" y="17.8" font-size="11.8" text-anchor="start">Ground truth</text>
<line x1="334.6" y1="13.6" x2="357.3" y2="13.6" stroke="#ffaa22" stroke-width="1.3"/>
<text x="365.8" y="17.8" font-size="11.8" text-anchor="start">VIO</text>
<line x1="406.4" y1="13.6" x2="429.6" y2="13.6" stroke="#2a9a2a" stroke-width="1.3"/>
<text x="437.4" y="17.8" font-size="11.8" text-anchor="start">Command</text>
<line x1="506.1" y1="13.6" x2="529.2" y2="13.6" stroke="#1c1cf0" stroke-width="1.3"/>
<text x="537.3" y="17.8" font-size="11.8" text-anchor="start">Ours</text>
</svg></body></html>
